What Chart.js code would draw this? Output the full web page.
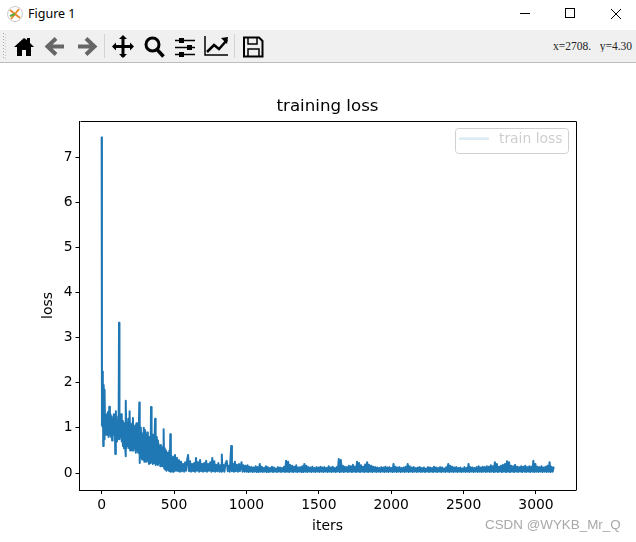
<!DOCTYPE html>
<html><head><meta charset="utf-8">
<script src="https://cdn.jsdelivr.net/npm/chart.js@4"></script>
<style>
html,body{margin:0;padding:0;background:#fff;width:636px;height:542px;overflow:hidden}
#chrome{position:absolute;left:0;top:0;width:636px;height:542px}
#tb{position:absolute;left:0;top:30px;width:636px;height:32px;background:#f0f0f0;border-bottom:1px solid #bcbcbc}
#fig{position:absolute;left:28px;top:5px;font:12.5px "Noto Sans",sans-serif;color:#000}
#coord{position:absolute;left:553px;top:40px;width:83px;overflow:hidden;white-space:pre;font:11.5px "Liberation Serif",serif;color:#222}
#mark{position:absolute;left:485px;top:517px;font:13.4px "Liberation Sans",sans-serif;color:#a8a8a8;white-space:pre;z-index:3}
svg{position:absolute;left:0;top:0}
canvas{position:absolute;left:0;top:0}
</style></head><body>
<div id="chrome">
<div id="tb"></div>
<svg width="636" height="64" viewBox="0 0 636 64">
 <g><circle cx="15" cy="14" r="7.5" fill="#fff" stroke="#ccc"/><path d="M10 10l10 8M19 9l-8 10" stroke="#e88a2a" stroke-width="2"/><path d="M15 14l-5 2" stroke="#5aa845" stroke-width="2"/></g>
 <path d="M520 13.500h10" stroke="#000" fill="none"/>
 <rect x="565.500" y="8.500" width="9" height="9" fill="none" stroke="#000"/>
 <path d="M611 9l10 10M621 9l-10 10" stroke="#000" fill="none"/>
 <path d="M3.500 33v26" stroke="#aaa" stroke-dasharray="1 2" fill="none"/><path d="M5.500 34v26" stroke="#ccc" stroke-dasharray="1 2" fill="none"/>
 <path d="M104.500 34v24M234.500 34v24" stroke="#d4d4d4" fill="none"/>
 <path d="M24 38l-10 9h3v9h5v-6h4v6h5v-9h3l-4-4v-5h-3v2z" fill="#000"/>
 <path d="M56 38.500l-8.500 8 8.500 8M48.500 46.500H64" stroke="#666" stroke-width="4" fill="none"/>
 <path d="M86 38.500l8.500 8-8.500 8M94 46.500H78" stroke="#666" stroke-width="4" fill="none"/>
 <path d="M123 37v20M113.500 46.500h19" stroke="#000" stroke-width="3" fill="none"/>
 <path d="M123 35l4 4h-8zM123 58l4-4h-8zM112 46.500l4-4v8zM134 46.500l-4-4v8z" fill="#000"/>
 <circle cx="152.500" cy="44.500" r="6.500" fill="none" stroke="#000" stroke-width="3"/><path d="M157 49.500l6.500 7" stroke="#000" stroke-width="3.500" fill="none"/>
 <path d="M175 40.500h20M175 47.500h20M175 54.500h20" stroke="#000" stroke-width="1.500" fill="none"/>
 <rect x="179" y="38" width="5" height="5" fill="#000"/><rect x="187" y="45" width="5" height="5" fill="#000"/><rect x="179" y="52" width="5" height="5" fill="#000"/>
 <path d="M205 36v19h23" stroke="#000" stroke-width="1.500" fill="none"/><path d="M207 52l7-7 5 4 8-9" stroke="#000" stroke-width="2.500" fill="none"/><path d="M228 37l-7 1 6 6z" fill="#000"/>
 <path d="M244 37.500h15l3.500 3.500v15.500h-18.500z" fill="none" stroke="#000" stroke-width="2"/><path d="M248 38v6h9v-6M248 56v-7h11v7" fill="none" stroke="#000" stroke-width="1.500"/>
</svg>
<div id="fig">Figure 1</div>
<div id="coord">x=2708.   y=4.30</div>
</div>
<canvas id="c" width="636" height="542"></canvas>
<div id="mark">CSDN @WYKB_Mr_Q</div>
<script>
const seriesName = 'train loss';
const chartTitle = 'training loss';
const xLabel = 'iters';
const yLabel = 'loss';
const xTickValues = [0, 500, 1000, 1500, 2000, 2500, 3000];
const yTickValues = [0, 1, 2, 3, 4, 5, 6, 7];

const itersEarly = [
0,2,4,7,9,11,14,17,20,24,
28,32,36,40,44,48,53,57,61,65,
69,72,76,80,84,88,91,94,98,102,
106,110,114,117,120,123,127,131,135,139,
143,147,150,154,158,162,165,168,172,176,
180,184,189,193,197,201,205,209,213,216,
220,224,228,232,236,240,244,248,252,256,
260,263,267,271,275,279,283,287,291,295,
299,303,307,311,315,319,323,327,331,335,
338,341,345,349,353,357,361,365,369,373,
377,381,385,389,393,397,401,405,409,413,
417,421,425,428,432,436,440,444,448,452,
456,460,464,468,471,474,478,482,486,490,
494,498];
const lossEarly = [
7.43,1.05,2.25,1.0,2.1,0.6,1.95,0.75,1.85,0.95,
1.2,0.85,1.3,0.85,1.35,0.8,1.47,0.85,1.3,0.8,
1.25,0.72,1.2,0.85,1.3,0.9,1.15,0.42,1.37,0.7,
1.1,0.75,1.25,0.8,3.33,0.75,1.2,0.8,1.3,0.7,
1.15,0.6,1.05,0.55,1.1,0.6,0.37,1.6,0.55,1.1,
0.6,1.2,0.55,1.37,0.5,1.1,0.6,1.05,0.5,1.22,
0.5,1.0,0.55,1.05,0.45,1.1,0.5,0.95,0.45,0.85,
1.56,0.22,1.0,0.35,0.9,0.3,0.85,0.3,1.0,0.25,
0.95,0.3,0.85,0.25,0.9,0.28,0.8,0.2,0.75,0.25,
0.22,1.46,0.25,0.85,0.2,0.75,0.22,0.7,1.2,0.18,
0.8,0.2,0.72,0.18,0.65,0.22,0.6,0.15,0.62,0.18,
0.55,0.15,0.6,0.97,0.1,0.55,0.07,0.5,0.05,0.45,
0.08,0.42,0.05,0.5,0.04,0.86,0.03,0.38,0.04,0.34,
0.03,0.36];

const itersMid = [
501,507,514,521,528,535,542,549,556,563,
570,577,584,591,597,604,611,618,625,632,
639,646,652,659,666,673,680,687,694,701,
708,715,722,729,736,743,750,757,764,771,
778,785,792,799,806,813,820,827,830,834,
841,848,855,864,871,878,885,895,900,907,
914,920,927,934,941,948,955,966,973,980,
987,994];
const lossMid = [
0.04,0.4,0.05,0.33,0.04,0.28,0.03,0.25,0.04,0.2,
0.03,0.24,0.05,0.3,0.4,0.04,0.26,0.03,0.2,0.04,
0.22,0.03,0.33,0.05,0.24,0.03,0.29,0.04,0.2,0.03,
0.22,0.04,0.27,0.03,0.2,0.05,0.24,0.03,0.33,0.04,
0.26,0.03,0.18,0.04,0.22,0.03,0.17,0.03,0.41,0.04,
0.18,0.03,0.2,0.27,0.04,0.16,0.03,0.6,0.04,0.2,
0.03,0.25,0.04,0.18,0.03,0.2,0.04,0.24,0.03,0.17,
0.03,0.16];

const itersLate = [
1001,1008,1015,1022,1029,1036,1043,1050,1057,1064,
1071,1078,1085,1092,1099,1106,1113,1120,1127,1134,
1141,1148,1155,1162,1169,1176,1183,1190,1197,1204,
1211,1218,1225,1232,1239,1246,1253,1260,1267,1274,
1281,1288,1295,1302,1309,1316,1323,1330,1337,1344,
1351,1358,1365,1372,1379,1386,1393,1400,1407,1414,
1421,1428,1435,1442,1449,1456,1463,1470,1477,1484,
1491,1498,1505,1512,1519,1526,1533,1540,1547,1554,
1561,1568,1575,1582,1589,1596,1603,1610,1617,1624,
1631,1638,1645,1652,1659,1666,1673,1680,1687,1694,
1701,1708,1715,1722,1729,1736,1743,1750,1757,1764,
1771,1778,1785,1792,1799,1806,1813,1820,1827,1834,
1841,1848,1855,1862,1869,1876,1883,1890,1897,1904,
1911,1918,1925,1932,1939,1946,1953,1960,1967,1974,
1981,1988,1995,2002,2009,2016,2023,2030,2037,2044,
2051,2058,2065,2072,2079,2086,2093,2100,2107,2114,
2121,2128,2135,2142,2149,2156,2163,2170,2177,2184,
2191,2198,2205,2212,2219,2226,2233,2240,2247,2254,
2261,2268,2275,2282,2289,2296,2303,2310,2317,2324,
2331,2338,2345,2352,2359,2366,2373,2380,2387,2394,
2401,2408,2415,2422,2429,2436,2443,2450,2457,2464,
2471,2478,2485,2492,2499,2506,2513,2520,2527,2534,
2541,2548,2555,2562,2569,2576,2583,2590,2597,2604,
2611,2618,2625,2632,2639,2646,2653,2660,2667,2674,
2681,2688,2695,2702,2709,2716,2723,2730,2737,2744,
2751,2758,2765,2772,2779,2786,2793,2800,2807,2814,
2821,2828,2835,2842,2849,2856,2863,2870,2877,2884,
2891,2898,2905,2912,2919,2926,2933,2940,2947,2954,
2961,2968,2975,2982,2989,2996,3003,3010,3017,3024,
3031,3038,3045,3052,3059,3066,3073,3080,3087,3094,
3101,3108,3115,3122];
const lossLate = [
0.03,0.17,0.02,0.14,0.03,0.13,0.02,0.12,0.03,0.15,
0.02,0.13,0.02,0.2,0.03,0.14,0.02,0.11,0.03,0.15,
0.02,0.13,0.02,0.11,0.03,0.14,0.02,0.12,0.03,0.1,
0.02,0.13,0.03,0.12,0.02,0.11,0.03,0.14,0.02,0.27,
0.03,0.25,0.02,0.18,0.03,0.16,0.02,0.14,0.03,0.17,
0.02,0.12,0.03,0.13,0.02,0.15,0.02,0.2,0.03,0.16,
0.02,0.13,0.03,0.12,0.02,0.14,0.03,0.11,0.02,0.13,
0.03,0.12,0.02,0.14,0.03,0.12,0.02,0.13,0.03,0.11,
0.02,0.15,0.03,0.12,0.02,0.14,0.03,0.11,0.02,0.13,
0.03,0.31,0.02,0.29,0.03,0.16,0.02,0.14,0.03,0.13,
0.02,0.16,0.03,0.15,0.02,0.18,0.03,0.14,0.02,0.25,
0.03,0.22,0.02,0.17,0.03,0.14,0.02,0.19,0.03,0.24,
0.02,0.18,0.03,0.16,0.02,0.14,0.03,0.13,0.02,0.12,
0.03,0.11,0.02,0.13,0.03,0.12,0.02,0.14,0.03,0.12,
0.02,0.13,0.03,0.11,0.02,0.2,0.03,0.14,0.02,0.12,
0.03,0.13,0.02,0.11,0.03,0.12,0.02,0.14,0.03,0.2,
0.02,0.15,0.03,0.12,0.02,0.13,0.03,0.11,0.02,0.12,
0.03,0.13,0.02,0.11,0.03,0.12,0.02,0.1,0.03,0.13,
0.02,0.12,0.03,0.11,0.02,0.14,0.03,0.12,0.02,0.11,
0.03,0.13,0.02,0.12,0.03,0.1,0.02,0.13,0.03,0.2,
0.02,0.16,0.03,0.14,0.02,0.12,0.03,0.13,0.02,0.11,
0.03,0.12,0.02,0.1,0.03,0.13,0.02,0.11,0.03,0.2,
0.02,0.13,0.03,0.12,0.02,0.11,0.03,0.13,0.02,0.15,
0.03,0.12,0.02,0.14,0.03,0.13,0.02,0.15,0.03,0.14,
0.02,0.17,0.03,0.15,0.02,0.24,0.03,0.2,0.02,0.14,
0.03,0.16,0.02,0.18,0.03,0.2,0.02,0.26,0.03,0.24,
0.02,0.16,0.03,0.15,0.02,0.18,0.03,0.14,0.02,0.13,
0.03,0.15,0.02,0.14,0.03,0.16,0.02,0.13,0.03,0.15,
0.02,0.14,0.03,0.27,0.02,0.2,0.03,0.14,0.02,0.13,
0.03,0.15,0.02,0.12,0.03,0.14,0.02,0.16,0.03,0.24,
0.02,0.14,0.03,0.12];

const iters = itersEarly.concat(itersMid, itersLate);
const loss = lossEarly.concat(lossMid, lossLate);

const tickFont = {family:'"DejaVu Sans"', size:13.9};

const legendSample = document.createElement('canvas');
legendSample.width = 33; legendSample.height = 3;
(function(){
  const g = legendSample.getContext('2d');
  g.fillStyle = '#1f77b4';
  g.fillRect(0, 0.5, 30, 2);
})();

const LEGEND_BOX = {left:455, top:128, right:568, bottom:153};

const framePlugin = {
  id:'frame',
  afterLayout(ch){
    const l = ch.legend, b = LEGEND_BOX;
    l.left=b.left; l.right=b.right; l.top=b.top; l.bottom=b.bottom;
    l.width=b.right-b.left; l.height=b.bottom-b.top;
  },
  beforeDatasetsDraw(ch){
    const a = ch.chartArea, c = ch.ctx;
    c.save(); c.strokeStyle='#000'; c.lineWidth=1;
    c.beginPath();
    c.moveTo(Math.round(a.left)+.5, Math.round(a.top)+.5);
    c.lineTo(Math.round(a.right)+.5, Math.round(a.top)+.5);
    c.lineTo(Math.round(a.right)+.5, Math.round(a.bottom)+.5);
    c.stroke(); c.restore();
  },
  afterDatasetsDraw(ch){
    const l = ch.legend, c = ch.ctx;
    c.save(); c.lineWidth=1;
    c.fillStyle='rgba(255,255,255,0.8)'; c.strokeStyle='#d0d0d0';
    c.beginPath();
    c.roundRect(l.left+.5, l.top+.5, l.width, l.height, 3);
    c.fill(); c.stroke(); c.restore();
  }
};

new Chart(document.getElementById('c'), {
  type:'line',
  data:{ datasets:[{
    label:seriesName,
    data:iters.map((x,i)=>({x, y:loss[i]})),
    borderColor:'#1f77b4', backgroundColor:'#1f77b4',
    borderWidth:2, pointRadius:0, tension:0, fill:false, borderJoinStyle:'round', borderCapStyle:'round'
  }]},
  plugins:[framePlugin],
  options:{
    responsive:false, animation:false, devicePixelRatio:1,
    layout:{padding:{top:97,left:40,right:60.5,bottom:7}},
    plugins:{
      title:{display:true,text:chartTitle,fullSize:false,color:'#000',font:{family:'"DejaVu Sans"',size:16.67,weight:'normal'},padding:{top:0,bottom:4}},
      legend:{position:'chartArea',align:'start',
        labels:{usePointStyle:true,pointStyle:legendSample,pointStyleWidth:33,boxHeight:14,color:'#000',font:tickFont,padding:4}},
      tooltip:{enabled:false}
    },
    scales:{
      x:{type:'linear',min:-153,max:3273,
        afterBuildTicks(s){s.ticks=xTickValues.map(v=>({value:v}));},
        afterFit(s){s.height=45;},
        grid:{drawOnChartArea:false,tickColor:'#000',tickLength:4},
        border:{color:'#000',width:1},
        ticks:{color:'#000',font:tickFont,maxRotation:0,autoSkip:false,padding:3,callback:v=>String(v)},
        title:{display:true,text:xLabel,color:'#000',font:tickFont,padding:0}
      },
      y:{type:'linear',min:-0.3766,max:7.798,
        afterBuildTicks(s){s.ticks=yTickValues.map(v=>({value:v}));},
        afterFit(s){s.width=39.5;},
        grid:{drawOnChartArea:false,tickColor:'#000',tickLength:4},
        border:{color:'#000',width:1},
        ticks:{color:'#000',font:tickFont,autoSkip:false,padding:3,callback:v=>String(v)},
        title:{display:true,text:yLabel,color:'#000',font:tickFont,padding:0}
      }
    }
  }
});
</script>
</body></html>
